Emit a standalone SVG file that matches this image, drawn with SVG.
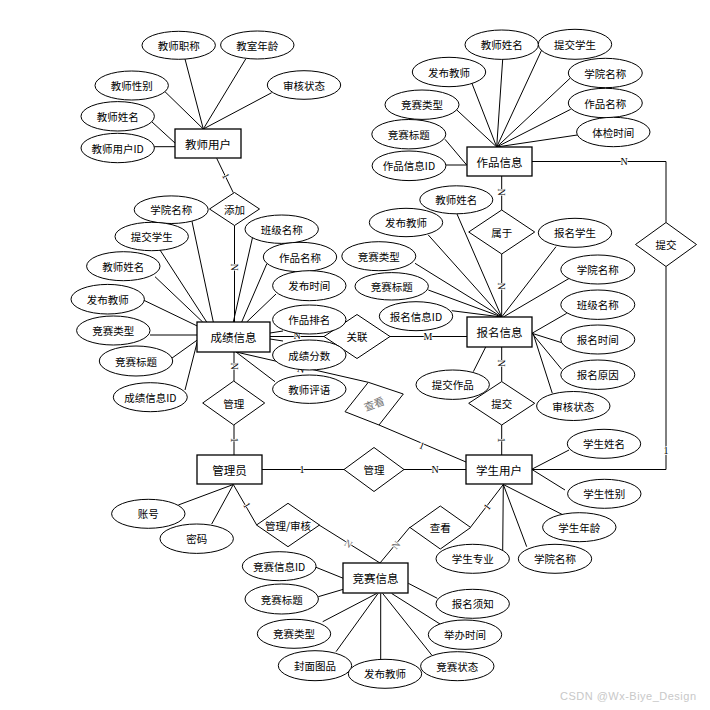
<svg xmlns="http://www.w3.org/2000/svg" width="710" height="710" viewBox="0 0 710 710">
<style>
.bg{fill:#fff}
.ln{stroke:#000;stroke-width:1;fill:none}
.e{fill:#fff;stroke:#000;stroke-width:1}
.r{fill:#fff;stroke:#000;stroke-width:1.3}
.d{fill:#fff;stroke:#000;stroke-width:1}
.t{font-family:"Noto Sans CJK SC","Liberation Sans",sans-serif;font-size:10.5px;fill:#000;text-anchor:middle;dominant-baseline:central}
.te{font-size:11.5px}
.c{font-family:"Liberation Serif","Noto Sans CJK SC",serif;font-size:10px;fill:#000;text-anchor:middle;dominant-baseline:central;paint-order:stroke;stroke:#fff;stroke-width:1.5px}
.g{fill:#777}
.wm{font-family:"Liberation Sans",sans-serif;font-size:11px;fill:#c8c8c8}
</style>
<rect class="bg" x="0" y="0" width="710" height="710"/>

<g id="connectors">
<!-- 教师用户 attributes -->
<line class="ln" x1="185" y1="59" x2="203.3" y2="129"/>
<line class="ln" x1="245.7" y1="59" x2="203.3" y2="129"/>
<line class="ln" x1="165" y1="91.7" x2="203.3" y2="129"/>
<line class="ln" x1="271.7" y1="92.7" x2="203.3" y2="129"/>
<line class="ln" x1="151.7" y1="121.7" x2="175.3" y2="143.3"/>
<line class="ln" x1="154.3" y1="146.7" x2="175.3" y2="146.7"/>
<!-- 作品信息 attributes -->
<line class="ln" x1="502.7" y1="59.3" x2="496.7" y2="147"/>
<line class="ln" x1="541.7" y1="50" x2="496.7" y2="147"/>
<line class="ln" x1="471.7" y1="82.7" x2="496.7" y2="147"/>
<line class="ln" x1="570" y1="78.3" x2="496.7" y2="147"/>
<line class="ln" x1="455" y1="108.3" x2="496.7" y2="147"/>
<line class="ln" x1="570.7" y1="109.3" x2="496.7" y2="147"/>
<line class="ln" x1="577.3" y1="135" x2="496.7" y2="147"/>
<line class="ln" x1="445" y1="139.3" x2="466.7" y2="165"/>
<line class="ln" x1="446" y1="165" x2="466.7" y2="165"/>
<!-- 成绩信息 attributes -->
<line class="ln" x1="191.7" y1="220" x2="213.3" y2="322"/>
<line class="ln" x1="160" y1="250" x2="206.7" y2="322"/>
<line class="ln" x1="155" y1="276.7" x2="202.7" y2="322"/>
<line class="ln" x1="143.3" y1="300" x2="197.3" y2="326"/>
<line class="ln" x1="150" y1="335" x2="197.3" y2="335"/>
<line class="ln" x1="171.7" y1="358.3" x2="197.3" y2="340"/>
<line class="ln" x1="185" y1="390" x2="197.3" y2="341.7"/>
<line class="ln" x1="252.7" y1="236.7" x2="233.3" y2="322"/>
<line class="ln" x1="266.7" y1="264" x2="241.7" y2="322"/>
<line class="ln" x1="276" y1="294" x2="246.7" y2="322"/>
<line class="ln" x1="283" y1="331" x2="270" y2="333"/>
<line class="ln" x1="283" y1="341" x2="270" y2="339"/>
<line class="ln" x1="275" y1="381.7" x2="236" y2="352"/>
<!-- 报名信息 attributes -->
<line class="ln" x1="456.7" y1="213.3" x2="501.7" y2="317"/>
<line class="ln" x1="428.3" y1="235" x2="501.7" y2="317"/>
<line class="ln" x1="415" y1="263.3" x2="501.7" y2="317"/>
<line class="ln" x1="428.3" y1="290" x2="501.7" y2="317"/>
<line class="ln" x1="451.7" y1="310.7" x2="501.7" y2="317"/>
<line class="ln" x1="556" y1="246.7" x2="501.7" y2="317"/>
<line class="ln" x1="569.3" y1="278.3" x2="503.3" y2="317"/>
<line class="ln" x1="566.7" y1="313.3" x2="532" y2="333.3"/>
<line class="ln" x1="561.7" y1="342.7" x2="532" y2="333.3"/>
<line class="ln" x1="561.7" y1="369.3" x2="532" y2="333.3"/>
<line class="ln" x1="552.3" y1="393.3" x2="533.3" y2="334"/>
<line class="ln" x1="473.3" y1="371.7" x2="485.7" y2="347"/>
<!-- 学生用户 attributes -->
<line class="ln" x1="569" y1="450" x2="531.7" y2="469.3"/>
<line class="ln" x1="565" y1="490" x2="531.7" y2="469.3"/>
<line class="ln" x1="563.3" y1="515" x2="503.3" y2="484.5"/>
<line class="ln" x1="502.7" y1="550.5" x2="503.3" y2="484.5"/>
<line class="ln" x1="526.7" y1="546.7" x2="503.3" y2="484.5"/>
<!-- 管理员 attributes -->
<line class="ln" x1="178.3" y1="505" x2="233.3" y2="484.5"/>
<line class="ln" x1="211.7" y1="524" x2="233.3" y2="484.5"/>
<!-- 竞赛信息 attributes -->
<line class="ln" x1="316" y1="567.3" x2="343.3" y2="578.3"/>
<line class="ln" x1="318.3" y1="596.7" x2="343.3" y2="589.3"/>
<line class="ln" x1="322.7" y1="621.7" x2="376.7" y2="593.5"/>
<line class="ln" x1="336" y1="651.7" x2="378" y2="593.5"/>
<line class="ln" x1="380.7" y1="659.3" x2="380.7" y2="593.5"/>
<line class="ln" x1="431.7" y1="655" x2="382.7" y2="593.5"/>
<line class="ln" x1="440" y1="624" x2="391.7" y2="593.5"/>
<line class="ln" x1="437.3" y1="598.3" x2="408.3" y2="583.3"/>
<!-- relationships -->
<line class="ln" x1="216.7" y1="158.3" x2="233.3" y2="192.7"/>
<line class="ln" x1="234.5" y1="225.5" x2="234.5" y2="322"/>
<line class="ln" x1="501.7" y1="176" x2="501.7" y2="210"/>
<line class="ln" x1="501.7" y1="254" x2="501.7" y2="317"/>
<line class="ln" x1="270" y1="336.5" x2="324" y2="336.5"/>
<line class="ln" x1="390" y1="336.5" x2="467" y2="336.5"/>
<line class="ln" x1="501.7" y1="347" x2="501.7" y2="381.6"/>
<line class="ln" x1="501.7" y1="425" x2="501.7" y2="455"/>
<polyline class="ln" points="532,161.5 666,161.5 666,222.5"/>
<polyline class="ln" points="666,266.5 666,469.5 532,469.5"/>
<line class="ln" x1="234" y1="352" x2="234" y2="381"/>
<line class="ln" x1="234" y1="425" x2="234" y2="455"/>
<line class="ln" x1="262" y1="469.5" x2="344" y2="469.5"/>
<line class="ln" x1="404" y1="469.5" x2="466" y2="469.5"/>
<line class="ln" x1="236" y1="352" x2="368.3" y2="382.3"/>
<line class="ln" x1="379" y1="425" x2="466" y2="462"/>
<line class="ln" x1="233.3" y1="484.5" x2="256.7" y2="525"/>
<line class="ln" x1="319" y1="525" x2="380" y2="563"/>
<line class="ln" x1="503.3" y1="484.5" x2="470.7" y2="527"/>
<line class="ln" x1="410" y1="527" x2="380" y2="563"/>
<!-- cardinality labels -->
<text class="c" x="226" y="176" transform="rotate(64 226 176)">1</text>
<text class="c" x="234.5" y="267" transform="rotate(90 234.5 267)">N</text>
<text class="c" x="501.7" y="192" transform="rotate(90 501.7 192)">N</text>
<text class="c" x="501.7" y="286" transform="rotate(90 501.7 286)">N</text>
<text class="c" x="297" y="335">N</text>
<text class="c" x="428" y="336.5">M</text>
<text class="c" x="501.7" y="363" transform="rotate(90 501.7 363)">N</text>
<text class="c" x="501.7" y="440" transform="rotate(90 501.7 440)">1</text>
<text class="c" x="624" y="161">N</text>
<text class="c" x="666" y="450">1</text>
<text class="c" x="234" y="366" transform="rotate(90 234 366)">N</text>
<text class="c" x="234" y="440" transform="rotate(90 234 440)">1</text>
<text class="c" x="302" y="469.5">1</text>
<text class="c" x="435" y="469.5">N</text>
<text class="c" x="301" y="369" transform="rotate(11 301 369)">N</text>
<text class="c" x="422" y="445.5" transform="rotate(23 422 445.5)">1</text>
<text class="c" x="247" y="505" transform="rotate(59 247 505)">1</text>
<text class="c g" x="348.5" y="543.5" transform="rotate(31 348.5 543.5)">N</text>
<text class="c" x="487" y="507" transform="rotate(-52 487 507)">1</text>
<text class="c g" x="396" y="545" transform="rotate(-50 396 545)">N</text>
</g>

<!-- entities -->
<g id="teacher-user"><rect class="r" x="175" y="129" width="66" height="29"/><text class="t te" x="208" y="143.5">教师用户</text></g>
<g id="work-info"><rect class="r" x="467" y="147" width="65" height="29"/><text class="t te" x="499.5" y="161.5">作品信息</text></g>
<g id="score-info"><rect class="r" x="197" y="322" width="73" height="30"/><text class="t te" x="233.5" y="337">成绩信息</text></g>
<g id="signup-info"><rect class="r" x="467" y="317" width="65" height="30"/><text class="t te" x="499.5" y="332">报名信息</text></g>
<g id="admin"><rect class="r" x="197" y="455" width="65" height="29"/><text class="t te" x="229.5" y="469.5">管理员</text></g>
<g id="student-user"><rect class="r" x="466" y="455" width="66" height="29"/><text class="t te" x="499" y="469.5">学生用户</text></g>
<g id="contest-info"><rect class="r" x="343" y="563" width="65" height="30"/><text class="t te" x="375.5" y="578">竞赛信息</text></g>

<!-- relationships -->
<g id="rel-add"><polygon class="d" points="234.5,192.5 259.5,209 234.5,225.5 209.5,209"/><text class="t" x="234.5" y="209">添加</text></g>
<g id="rel-belong"><polygon class="d" points="501.7,210 534.7,232 501.7,254 468.7,232"/><text class="t" x="501.7" y="232">属于</text></g>
<g id="rel-assoc"><polygon class="d" points="357,314.5 390,336.5 357,358.5 324,336.5"/><text class="t" x="357" y="336.5">关联</text></g>
<g id="rel-submit-low"><polygon class="d" points="501.7,381.6 534.7,403.3 501.7,425 468.7,403.3"/><text class="t" x="501.7" y="403.3">提交</text></g>
<g id="rel-submit-right"><polygon class="d" points="666,222.5 696.5,244.5 666,266.5 635.5,244.5"/><text class="t" x="666" y="244.5">提交</text></g>
<g id="rel-manage-up"><polygon class="d" points="233.7,381 264.7,403 233.7,425 202.7,403"/><text class="t" x="233.7" y="403">管理</text></g>
<g id="rel-manage"><polygon class="d" points="374,447.5 404,469.5 374,491.5 344,469.5"/><text class="t" x="374" y="469.5">管理</text></g>
<g id="rel-manage-audit"><polygon class="d" points="288,503.3 319.5,525 288,546.7 256.5,525"/><text class="t" x="288" y="525">管理/审核</text></g>
<g id="rel-view-low"><polygon class="d" points="440.3,506 470.7,527.5 440.3,549 410,527.5"/><text class="t" x="440.3" y="527.5">查看</text></g>
<g id="rel-view-up"><polygon class="d" points="345,411.7 368.3,382.3 403.3,394 379,425"/><text class="t g" x="374" y="403.5" transform="rotate(-20 374 403.5)">查看</text></g>

<!-- attributes: 教师用户 -->
<g id="tu-title"><ellipse class="e" cx="178.7" cy="45.3" rx="36.7" ry="14"/><text class="t" x="178.7" y="45.3">教师职称</text></g>
<g id="tu-age"><ellipse class="e" cx="257.3" cy="45" rx="36.7" ry="14"/><text class="t" x="257.3" y="45">教室年龄</text></g>
<g id="tu-gender"><ellipse class="e" cx="131.7" cy="85.5" rx="36.7" ry="14.5"/><text class="t" x="131.7" y="85.5">教师性别</text></g>
<g id="tu-status"><ellipse class="e" cx="304" cy="85" rx="36.7" ry="14.3"/><text class="t" x="304" y="85">审核状态</text></g>
<g id="tu-name"><ellipse class="e" cx="117.7" cy="116.3" rx="36.7" ry="14.7"/><text class="t" x="117.7" y="116.3">教师姓名</text></g>
<g id="tu-id"><ellipse class="e" cx="117.7" cy="148" rx="36.7" ry="14.7"/><text class="t" x="117.7" y="148">教师用户ID</text></g>

<!-- attributes: 作品信息 -->
<g id="wi-teacher"><ellipse class="e" cx="501.7" cy="44.7" rx="36.7" ry="14.7"/><text class="t" x="501.7" y="44.7">教师姓名</text></g>
<g id="wi-student"><ellipse class="e" cx="575" cy="44.3" rx="36.7" ry="15"/><text class="t" x="575" y="44.3">提交学生</text></g>
<g id="wi-publisher"><ellipse class="e" cx="449" cy="72" rx="36.7" ry="14.7"/><text class="t" x="449" y="72">发布教师</text></g>
<g id="wi-college"><ellipse class="e" cx="605.3" cy="73" rx="37" ry="14.7"/><text class="t" x="605.3" y="73">学院名称</text></g>
<g id="wi-type"><ellipse class="e" cx="422" cy="104.7" rx="37" ry="14.7"/><text class="t" x="422" y="104.7">竞赛类型</text></g>
<g id="wi-name"><ellipse class="e" cx="605.3" cy="103" rx="37" ry="14.7"/><text class="t" x="605.3" y="103">作品名称</text></g>
<g id="wi-title"><ellipse class="e" cx="408.8" cy="134.2" rx="37" ry="14.7"/><text class="t" x="408.8" y="134.2">竞赛标题</text></g>
<g id="wi-time"><ellipse class="e" cx="613.3" cy="132" rx="36.7" ry="14.7"/><text class="t" x="613.3" y="132">体检时间</text></g>
<g id="wi-id"><ellipse class="e" cx="409" cy="165.8" rx="36.9" ry="14.8"/><text class="t" x="409" y="165.8">作品信息ID</text></g>

<!-- attributes: 成绩信息 -->
<g id="si-college"><ellipse class="e" cx="171.2" cy="209.7" rx="37" ry="13.8"/><text class="t" x="171.2" y="209.7">学院名称</text></g>
<g id="si-student"><ellipse class="e" cx="151.7" cy="236.5" rx="36.7" ry="14.2"/><text class="t" x="151.7" y="236.5">提交学生</text></g>
<g id="si-class"><ellipse class="e" cx="281.7" cy="229.2" rx="36.7" ry="14.2"/><text class="t" x="281.7" y="229.2">班级名称</text></g>
<g id="si-work"><ellipse class="e" cx="300" cy="257" rx="36.7" ry="14.7"/><text class="t" x="300" y="257">作品名称</text></g>
<g id="si-teacher"><ellipse class="e" cx="123.3" cy="266.2" rx="36.7" ry="14.5"/><text class="t" x="123.3" y="266.2">教师姓名</text></g>
<g id="si-pubtime"><ellipse class="e" cx="309.3" cy="285.7" rx="36.7" ry="15"/><text class="t" x="309.3" y="285.7">发布时间</text></g>
<g id="si-publisher"><ellipse class="e" cx="107.7" cy="299.2" rx="36.7" ry="14.8"/><text class="t" x="107.7" y="299.2">发布教师</text></g>
<g id="si-rank"><ellipse class="e" cx="309.3" cy="319.5" rx="36.7" ry="14.5"/><text class="t" x="309.3" y="319.5">作品排名</text></g>
<g id="si-type"><ellipse class="e" cx="113.3" cy="330.5" rx="36.7" ry="14.5"/><text class="t" x="113.3" y="330.5">竞赛类型</text></g>
<g id="si-score"><ellipse class="e" cx="309.3" cy="355" rx="36.7" ry="15"/><text class="t" x="309.3" y="355">成绩分数</text></g>
<g id="si-title"><ellipse class="e" cx="136" cy="361" rx="36.7" ry="15"/><text class="t" x="136" y="361">竞赛标题</text></g>
<g id="si-comment"><ellipse class="e" cx="309.3" cy="389.2" rx="36.7" ry="14.2"/><text class="t" x="309.3" y="389.2">教师评语</text></g>
<g id="si-id"><ellipse class="e" cx="150.3" cy="397.2" rx="37" ry="14.5"/><text class="t" x="150.3" y="397.2">成绩信息ID</text></g>

<!-- attributes: 报名信息 -->
<g id="bi-teacher"><ellipse class="e" cx="456.3" cy="199.8" rx="36.5" ry="14"/><text class="t" x="456.3" y="199.8">教师姓名</text></g>
<g id="bi-publisher"><ellipse class="e" cx="406" cy="222.5" rx="36.7" ry="14.2"/><text class="t" x="406" y="222.5">发布教师</text></g>
<g id="bi-student"><ellipse class="e" cx="575" cy="232.8" rx="36.7" ry="14.5"/><text class="t" x="575" y="232.8">报名学生</text></g>
<g id="bi-type"><ellipse class="e" cx="378.8" cy="256.2" rx="37" ry="14.5"/><text class="t" x="378.8" y="256.2">竞赛类型</text></g>
<g id="bi-college"><ellipse class="e" cx="597.8" cy="269.5" rx="37" ry="14.5"/><text class="t" x="597.8" y="269.5">学院名称</text></g>
<g id="bi-title"><ellipse class="e" cx="391.7" cy="286.3" rx="36.7" ry="13.7"/><text class="t" x="391.7" y="286.3">竞赛标题</text></g>
<g id="bi-class"><ellipse class="e" cx="597.8" cy="304.7" rx="37" ry="14.7"/><text class="t" x="597.8" y="304.7">班级名称</text></g>
<g id="bi-id"><ellipse class="e" cx="416" cy="316.2" rx="36.7" ry="14.5"/><text class="t" x="416" y="316.2">报名信息ID</text></g>
<g id="bi-time"><ellipse class="e" cx="597.8" cy="339.5" rx="37" ry="14.5"/><text class="t" x="597.8" y="339.5">报名时间</text></g>
<g id="bi-reason"><ellipse class="e" cx="597.8" cy="374.7" rx="37" ry="14.7"/><text class="t" x="597.8" y="374.7">报名原因</text></g>
<g id="bi-work"><ellipse class="e" cx="452.7" cy="384.7" rx="36.7" ry="14.7"/><text class="t" x="452.7" y="384.7">提交作品</text></g>
<g id="bi-status"><ellipse class="e" cx="573.3" cy="406" rx="36.7" ry="14.5"/><text class="t" x="573.3" y="406">审核状态</text></g>

<!-- attributes: 学生用户 -->
<g id="su-name"><ellipse class="e" cx="604" cy="443.8" rx="36.7" ry="14.5"/><text class="t" x="604" y="443.8">学生姓名</text></g>
<g id="su-gender"><ellipse class="e" cx="604.3" cy="493.8" rx="36.7" ry="14.5"/><text class="t" x="604.3" y="493.8">学生性别</text></g>
<g id="su-age"><ellipse class="e" cx="579.3" cy="527.2" rx="36.7" ry="14.5"/><text class="t" x="579.3" y="527.2">学生年龄</text></g>
<g id="su-major"><ellipse class="e" cx="472.7" cy="558.8" rx="36.7" ry="14.5"/><text class="t" x="472.7" y="558.8">学生专业</text></g>
<g id="su-college"><ellipse class="e" cx="555" cy="558.8" rx="36.7" ry="14.5"/><text class="t" x="555" y="558.8">学院名称</text></g>

<!-- attributes: 管理员 -->
<g id="ad-account"><ellipse class="e" cx="148.3" cy="513.8" rx="36.7" ry="14.5"/><text class="t" x="148.3" y="513.8">账号</text></g>
<g id="ad-password"><ellipse class="e" cx="196.7" cy="538.7" rx="36.7" ry="14.7"/><text class="t" x="196.7" y="538.7">密码</text></g>

<!-- attributes: 竞赛信息 -->
<g id="ci-id"><ellipse class="e" cx="279.2" cy="566.2" rx="36.9" ry="14.5"/><text class="t" x="279.2" y="566.2">竞赛信息ID</text></g>
<g id="ci-title"><ellipse class="e" cx="281.7" cy="599" rx="36.7" ry="15"/><text class="t" x="281.7" y="599">竞赛标题</text></g>
<g id="ci-type"><ellipse class="e" cx="294" cy="633.8" rx="36.7" ry="14.5"/><text class="t" x="294" y="633.8">竞赛类型</text></g>
<g id="ci-cover"><ellipse class="e" cx="315" cy="665.7" rx="36.7" ry="15"/><text class="t" x="315" y="665.7">封面图品</text></g>
<g id="ci-publisher"><ellipse class="e" cx="385" cy="673.8" rx="36.7" ry="14.5"/><text class="t" x="385" y="673.8">发布教师</text></g>
<g id="ci-status"><ellipse class="e" cx="457.3" cy="666.2" rx="36.7" ry="14.5"/><text class="t" x="457.3" y="666.2">竞赛状态</text></g>
<g id="ci-time"><ellipse class="e" cx="465" cy="634.7" rx="36.7" ry="14.7"/><text class="t" x="465" y="634.7">举办时间</text></g>
<g id="ci-notice"><ellipse class="e" cx="472.7" cy="603.8" rx="36.7" ry="14.5"/><text class="t" x="472.7" y="603.8">报名须知</text></g>

<text class="wm" x="560" y="700" textLength="136">CSDN @Wx-Biye_Design</text>
</svg>
